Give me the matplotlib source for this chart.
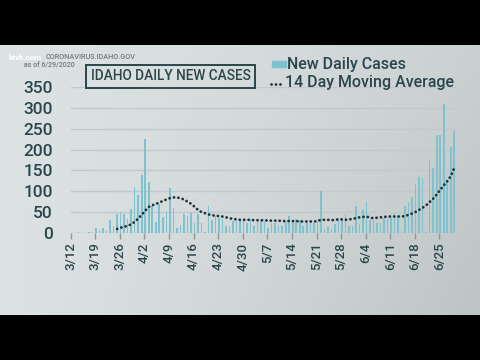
import numpy as np
import matplotlib.pyplot as plt
from matplotlib.patches import Rectangle
from matplotlib.lines import Line2D

# daily new cases, 3/12 .. 6/29
daily_cases = [0, 0, 2, 0, 0, 2, 1, 11, 6, 12, 3, 30, 15, 44, 51, 44, 32, 58, 109, 91,            # 3/12-3/31
               139, 226, 121, 65, 25, 69, 37, 50, 108, 60, 12, 19, 44, 40, 48, 24, 44, 24, 2, 64,  # 4/1-4/20
               31, 39, 35, 34, 17, 17, 27, 29, 31, 31,                                               # 4/21-4/30
               24, 32, 15, 26, 27, 27, 12, 24, 23, 18, 15, 26, 40, 26, 32, 31, 17, 24, 24, 24,      # 5/1-5/20
               27, 101, 10, 14, 10, 21, 35, 34, 45, 17, 16,                                          # 5/21-5/31
               64, 21, 55, 73, 31, 27, 24, 24, 35, 35, 35, 48, 39, 4, 64, 74, 87,                    # 6/1-6/17
               117, 134, 132, 2, 176, 156, 236, 236, 311, 126, 206, 244]                             # 6/18-6/29

# 14 day moving average, starts 3/25 (day 13)
ma_first_day = 13
moving_avg = [9, 12, 14, 17, 20, 26, 34,                                                             # 3/25-3/31
              43, 53, 62, 66, 69, 73, 76, 80, 83, 85, 85, 83, 80, 75, 70, 63, 55, 50, 47, 44,
              42, 41, 40, 39, 37, 35, 33, 32, 31, 31,                                                # April
              31, 31, 30, 30, 30, 30, 29, 29, 29, 29, 28, 28, 28, 28, 28, 27, 27, 27, 27, 27, 28,
              31, 31, 31, 30, 31, 32, 32, 31, 32, 33,                                                # May
              35, 37, 38, 39, 36, 35, 36, 37, 38, 39, 39, 39, 39, 39, 40, 43, 46,
              50, 55, 60, 66, 74, 82, 92, 103, 114, 124, 136, 156]                                  # June

tick_labels = ['3/12', '3/19', '3/26', '4/2', '4/9', '4/16', '4/23', '4/30',
               '5/7', '5/14', '5/21', '5/28', '6/4', '6/11', '6/18', '6/25']
y_ticks = [0, 50, 100, 150, 200, 250, 300, 350]

bar_color = '#7cc3cf'
text_color = '#2b464b'
dot_color = '#1d3539'

plt.rcParams['font.family'] = ['Roboto', 'DejaVu Sans']
plt.rcParams['font.weight'] = 'medium'

W, H = 480, 360
fig = plt.figure(figsize=(4.8, 3.6), dpi=100)
fig.patch.set_facecolor('black')

# grey studio background with a soft gradient
bg = fig.add_axes([0, 45 / H, 1, 270 / H])
gx = np.linspace(0, 1, 200)
gy = np.linspace(0, 1, 100)
GX, GY = np.meshgrid(gx, gy)
lum = 0.885 - 0.07 * GX ** 1.5 - 0.05 * GY * GX
img = np.dstack([lum - 0.02, lum, lum + 0.005])
bg.imshow(np.clip(img, 0, 1), aspect='auto', extent=[0, 1, 0, 1])
bg.axis('off')

days = np.arange(len(daily_cases))
ma_days = np.arange(ma_first_day, ma_first_day + len(moving_avg))

ax = fig.add_axes([70.7 / W, (H - 232.7) / H, (457 - 70.7) / W, (232.7 - 87.3) / H])
ax.patch.set_alpha(0)
ax.bar(days, daily_cases, width=0.45, align='edge', color=bar_color, zorder=2)
ax.plot(ma_days + 0.22, moving_avg, color=dot_color, lw=2.0,
        linestyle=(0, (0.05, 1.55)), dash_capstyle='round', zorder=3)

ax.set_xlim(0, 110)
ax.set_ylim(0, 350)
ax.set_yticks(y_ticks)
ax.set_yticklabels([str(v) for v in y_ticks], fontsize=12.5, color=text_color)
ax.set_xticks(np.arange(0, 7 * len(tick_labels), 7))
ax.set_xticklabels(tick_labels, rotation=90, fontsize=9.5, color=text_color)
ax.tick_params(axis='y', length=0, pad=13)
ax.tick_params(axis='x', length=4, width=1, color='#8d979b', pad=3)
ax.yaxis.grid(True, color='#c2c8cb', lw=1)
ax.set_axisbelow(True)
for s in ax.spines.values():
    s.set_visible(False)

# title box
fig.text(170.5 / W, 1 - 76.5 / H, 'IDAHO DAILY NEW CASES', ha='center', va='center',
         fontsize=9.8, color=text_color,
         bbox=dict(boxstyle='square,pad=0.3', fc='none', ec=text_color, lw=1.4))

# legend
fig.patches.append(Rectangle((272 / W, (H - 66.7) / H), 14 / W, 6 / H,
                             transform=fig.transFigure, color=bar_color))
fig.text(287 / W, 1 - 64 / H, 'New Daily Cases', va='center', fontsize=11.5, color=text_color)
fig.lines.append(Line2D([271 / W, 283 / W], [1 - 84 / H, 1 - 84 / H], transform=fig.transFigure,
                        color=dot_color, lw=2.0, linestyle=(0, (0.05, 1.55)),
                        dash_capstyle='round'))
fig.text(285 / W, 1 - 82.5 / H, '14 Day Moving Average', va='center', fontsize=11.5,
         color=text_color)

# source line
fig.text(9 / W, 1 - 57 / H, 'ktvb.com', va='center', fontsize=5.8, color='white', weight='bold')
fig.text(46 / W, 1 - 57 / H, 'CORONAVIRUS.IDAHO.GOV', va='center', fontsize=5.2, color='#6f7c80')
fig.text(24 / W, 1 - 64.5 / H, 'as of 6/29/2020', va='center', fontsize=5, color='#6f7c80')

fig.savefig('out.png', dpi=100, facecolor=fig.get_facecolor())
